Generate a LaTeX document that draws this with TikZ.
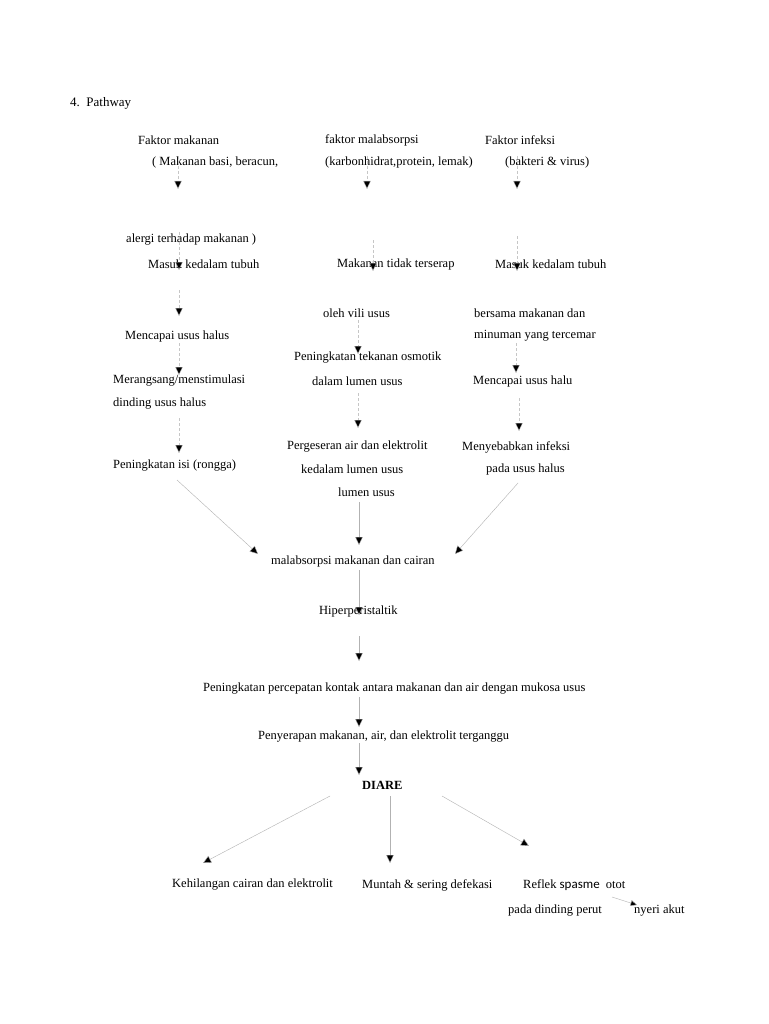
\documentclass[tikz,border=0pt]{standalone}
\usepackage{fontspec}
\setmainfont{Liberation Serif}
\newfontfamily\spasmefont{Carlito}
\usetikzlibrary{arrows.meta}
\begin{document}
\begin{tikzpicture}[x=1pt, y=-1pt,
    txt/.style = {anchor=west, inner sep=0pt, font=\fontsize{12.5}{14}\selectfont},
    flow/.style = {draw=gray!60, line width=0.4pt, -{Triangle[width=7.5pt, length=8pt, fill=black]}},
    faint/.style = {flow, densely dashed, draw=gray!45}]
\useasboundingbox[fill=white] (0,0) rectangle (768,1024);
\node [txt, font=\fontsize{13}{15}\selectfont] (judul) at (70,103) {4.\ \ Pathway};
% kolom kiri
\node [txt] (fmakan) at (138,140) {Faktor makanan};
\node [txt] (fmakanB) at (152,162) {( Makanan basi, beracun,};
\node [txt] (alergi) at (126,240) {alergi terhadap makanan )};
\node [txt] (masukA) at (148,264) {Masuk kedalam tubuh};
\node [txt] (capaiA) at (125,336) {Mencapai usus halus};
\node [txt] (rangsang) at (113,381) {Merangsang/menstimulasi};
\node [txt] (dinding) at (113,404) {dinding usus halus};
\node [txt] (isi) at (113,466) {Peningkatan isi (rongga)};
% kolom tengah
\node [txt] (fmal) at (325,140) {faktor malabsorpsi};
\node [txt] (fmalB) at (325,162) {(karbonhidrat,protein, lemak)};
\node [txt] (tdkserap) at (337,264) {Makanan tidak terserap};
\node [txt] (vili) at (323,313) {oleh vili usus};
\node [txt] (osmotik) at (294,358) {Peningkatan tekanan osmotik};
\node [txt] (lumenA) at (312,381) {dalam lumen usus};
\node [txt] (geser) at (287,447) {Pergeseran air dan elektrolit};
\node [txt] (lumenB) at (301,469) {kedalam lumen usus};
\node [txt] (lumenC) at (338,492) {lumen usus};
% kolom kanan
\node [txt] (finf) at (485,140) {Faktor infeksi};
\node [txt] (finfB) at (505,162) {(bakteri \& virus)};
\node [txt] (masukB) at (495,264) {Masuk kedalam tubuh};
\node [txt] (bersama) at (474,313) {bersama makanan dan};
\node [txt] (minum) at (474,336) {minuman yang tercemar};
\node [txt] (capaiB) at (473,381) {Mencapai usus halu};
\node [txt] (sebab) at (462,447) {Menyebabkan infeksi};
\node [txt] (sebabB) at (486,469) {pada usus halus};
% bagian bawah
\node [txt] (malabs) at (271,561) {malabsorpsi makanan dan cairan};
\node [txt] (hiper) at (319,611) {Hiperperistaltik};
\node [txt] (kontak) at (203,689) {Peningkatan percepatan kontak antara makanan dan air dengan mukosa usus};
\node [txt] (serap) at (258,737) {Penyerapan makanan, air, dan elektrolit terganggu};
\node [txt, font=\fontsize{12.5}{14}\selectfont\bfseries] (diare) at (362,785) {DIARE};
\node [txt] (hilang) at (172,885) {Kehilangan cairan dan elektrolit};
\node [txt] (muntah) at (362,885) {Muntah \& sering defekasi};
\node [txt] (reflek) at (523,885) {Reflek {\spasmefont\fontsize{13}{14}\selectfont spasme}\ \ otot};
\node [txt] (perut) at (508,911) {pada dinding perut};
\node [txt] (nyeri) at (634,911) {nyeri akut};
% ujung panah
\coordinate (a1s) at (178,156);
\coordinate (a1) at (178,189);
\coordinate (a2s) at (179,232);
\coordinate (a2) at (179,270);
\coordinate (a3s) at (179,290);
\coordinate (a3) at (179,316);
\coordinate (a4s) at (179,343);
\coordinate (a4) at (179,375);
\coordinate (a5s) at (179,418);
\coordinate (a5) at (179,453);
\coordinate (b1s) at (367,156);
\coordinate (b1) at (367,189);
\coordinate (b2s) at (373,240);
\coordinate (b2) at (373,271);
\coordinate (b3s) at (358,320);
\coordinate (b3) at (358,354);
\coordinate (b4s) at (358,393);
\coordinate (b4) at (358,428);
\coordinate (b5s) at (359,502);
\coordinate (b5) at (359,545);
\coordinate (b6s) at (359,570);
\coordinate (b6) at (359,615);
\coordinate (b7s) at (359,636);
\coordinate (b7) at (359,661);
\coordinate (b8s) at (359,697);
\coordinate (b8) at (359,727);
\coordinate (b9s) at (359,743);
\coordinate (b9) at (359,775);
\coordinate (c1s) at (517,156);
\coordinate (c1) at (517,189);
\coordinate (c2s) at (517,236);
\coordinate (c2) at (517,271);
\coordinate (c3s) at (516,343);
\coordinate (c3) at (516,373);
\coordinate (c4s) at (519,398);
\coordinate (c4) at (519,431);
\coordinate (kiriS) at (177,480);
\coordinate (kiri) at (258,554);
\coordinate (kananS) at (518,483);
\coordinate (kanan) at (455,554);
\coordinate (d1s) at (330,796);
\coordinate (d1) at (203,863);
\coordinate (d2s) at (390,796);
\coordinate (d2) at (390,863);
\coordinate (d3s) at (442,796);
\coordinate (d3) at (529,846);
\coordinate (e1s) at (612,897);
\coordinate (e1) at (637,905);
\draw [faint] (a1s) -- (a1);
\draw [faint] (a2s) -- (a2);
\draw [faint] (a3s) -- (a3);
\draw [faint] (a4s) -- (a4);
\draw [faint] (a5s) -- (a5);
\draw [faint] (b1s) -- (b1);
\draw [faint] (b2s) -- (b2);
\draw [faint] (b3s) -- (b3);
\draw [faint] (b4s) -- (b4);
\draw [faint] (c1s) -- (c1);
\draw [faint] (c2s) -- (c2);
\draw [faint] (c3s) -- (c3);
\draw [faint] (c4s) -- (c4);
\draw [flow] (kiriS) -- (kiri);
\draw [flow] (kananS) -- (kanan);
\draw [flow] (b5s) -- (b5);
\draw [flow] (b6s) -- (b6);
\draw [flow] (b7s) -- (b7);
\draw [flow] (b8s) -- (b8);
\draw [flow] (b9s) -- (b9);
\draw [flow] (d1s) -- (d1);
\draw [flow] (d2s) -- (d2);
\draw [flow] (d3s) -- (d3);
\draw [flow, -{Triangle[width=6pt, length=6.5pt, fill=black]}] (e1s) -- (e1);
\end{tikzpicture}
\end{document}
